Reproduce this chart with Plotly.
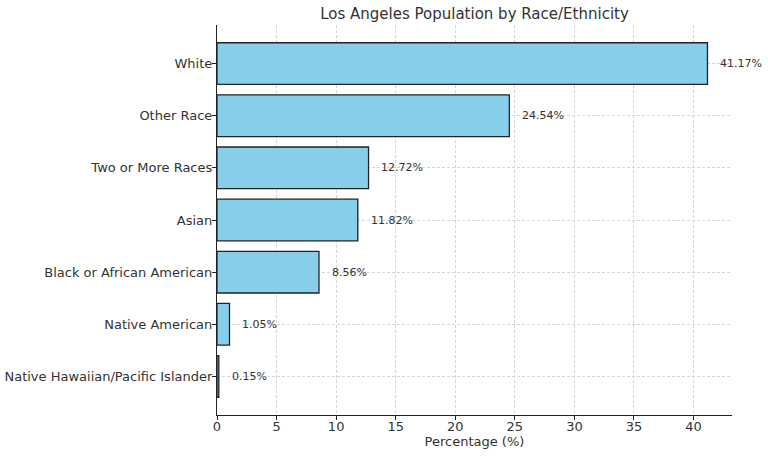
import plotly.graph_objects as go

categories = ["White", "Other Race", "Two or More Races", "Asian",
              "Black or African American", "Native American",
              "Native Hawaiian/Pacific Islander"]
percentages = [41.17, 24.54, 12.72, 11.82, 8.56, 1.05, 0.15]
x_ticks = [0, 5, 10, 15, 20, 25, 30, 35, 40]

order = list(reversed(categories))

fig = go.Figure()
fig.add_trace(go.Bar(
    x=percentages, y=categories, orientation="h", width=0.8,
    marker=dict(color="#87CEEB", line=dict(color="#222222", width=1.3)),
    hoverinfo="x+y",
))

for c, v in zip(categories, percentages):
    fig.add_annotation(x=v + 1, y=c, text=f"{v:.2f}%", xanchor="left",
                       showarrow=False, xshift=-1,
                       font=dict(family="DejaVu Sans", size=11, color="#333333"))

fig.update_layout(
    width=768, height=457,
    margin=dict(l=217, r=36, t=25, b=42, autoexpand=False),
    paper_bgcolor="white", plot_bgcolor="white",
    title=dict(text="Los Angeles Population by Race/Ethnicity",
               x=0.5, xref="paper", xanchor="center",
               y=1 - 14 / 457, yref="container", yanchor="middle",
               font=dict(family="DejaVu Sans", size=15, color="#333333")),
    font=dict(family="DejaVu Sans", size=13, color="#333333"),
    showlegend=False,
    bargap=0.2,
)
fig.update_xaxes(
    range=[0, max(percentages) * 1.05], tickvals=x_ticks, automargin=False,
    showline=True, linecolor="#222222", linewidth=1.2,
    ticks="outside", ticklen=4, tickcolor="#222222",
    ticklabelstandoff=-5,
    showgrid=True, gridcolor="#d6d6d6", griddash="3px,2px", gridwidth=0.7,
    zeroline=False,
    title=dict(text="Percentage (%)", font=dict(size=13), standoff=0),
    tickfont=dict(size=13),
)
fig.update_yaxes(
    type="category", categoryorder="array", categoryarray=order,
    range=[-0.74, len(order) - 1 + 0.74], automargin=False,
    showline=True, linecolor="#222222", linewidth=1.2,
    ticks="outside", ticklen=4, tickcolor="#222222",
    ticklabelstandoff=-3,
    showgrid=True, gridcolor="#d6d6d6", griddash="3px,2px", gridwidth=0.7,
    zeroline=False, tickfont=dict(size=13),
)

fig.write_html("out.html", config={"displayModeBar": False},
               post_script="document.body.style.margin='0';document.body.style.overflow='hidden';")
